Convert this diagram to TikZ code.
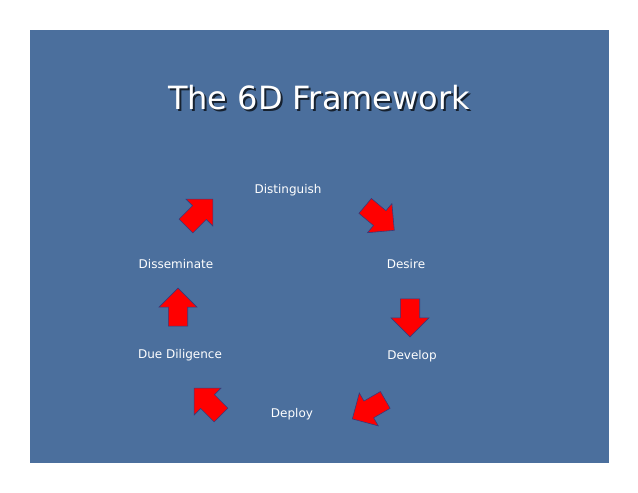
\documentclass[tikz,border=0pt]{standalone}
\usepackage{fontspec}
\setmainfont{DejaVu Sans}
\usetikzlibrary{shapes.arrows}
\definecolor{slide}{HTML}{4B6F9D}
\definecolor{arrred}{HTML}{FF0000}
\definecolor{arredge}{HTML}{3A3A7A}
\tikzset{
  lbl/.style={text=white,font=\fontsize{12}{14}\selectfont,inner sep=0pt},
  blk/.style={single arrow,draw=arredge,fill=arrred,line width=0.6pt,minimum height=38pt,minimum width=38pt,single arrow head extend=7pt,inner sep=7pt}
}
\begin{document}
\begin{tikzpicture}[x=1pt,y=-1pt]
\useasboundingbox (0,0) rectangle (638,493);
\fill[white] (0,0) rectangle (638,493);
\fill[slide] (30,30) rectangle (609,463);
\node[text=black!70!slide,font=\fontsize{32}{38}\selectfont,inner sep=0pt] (ts) at (321,100) {The 6D Framework};
\node[text=white,font=\fontsize{32}{38}\selectfont,inner sep=0pt] (t) at (319,98) {The 6D Framework};
\node[lbl] (dist) at (288,190) {Distinguish};
\node[lbl] (desi) at (406,264) {Desire};
\node[lbl] (diss) at (176,264) {Disseminate};
\node[lbl] (due) at (180,355) {Due Diligence};
\node[lbl] (dev) at (412,356) {Develop};
\node[lbl] (dep) at (292,414) {Deploy};
\node[blk,rotate=45] (a1) at (196,216) {};
\node[blk,rotate=-40] (a2) at (376,215) {};
\node[blk,rotate=-90] (a3) at (410,313) {};
\node[blk,rotate=-150] (a4) at (373,407) {};
\node[blk,rotate=135] (a5) at (211,405) {};
\node[blk,rotate=90] (a6) at (178,312) {};
\end{tikzpicture}
\end{document}
